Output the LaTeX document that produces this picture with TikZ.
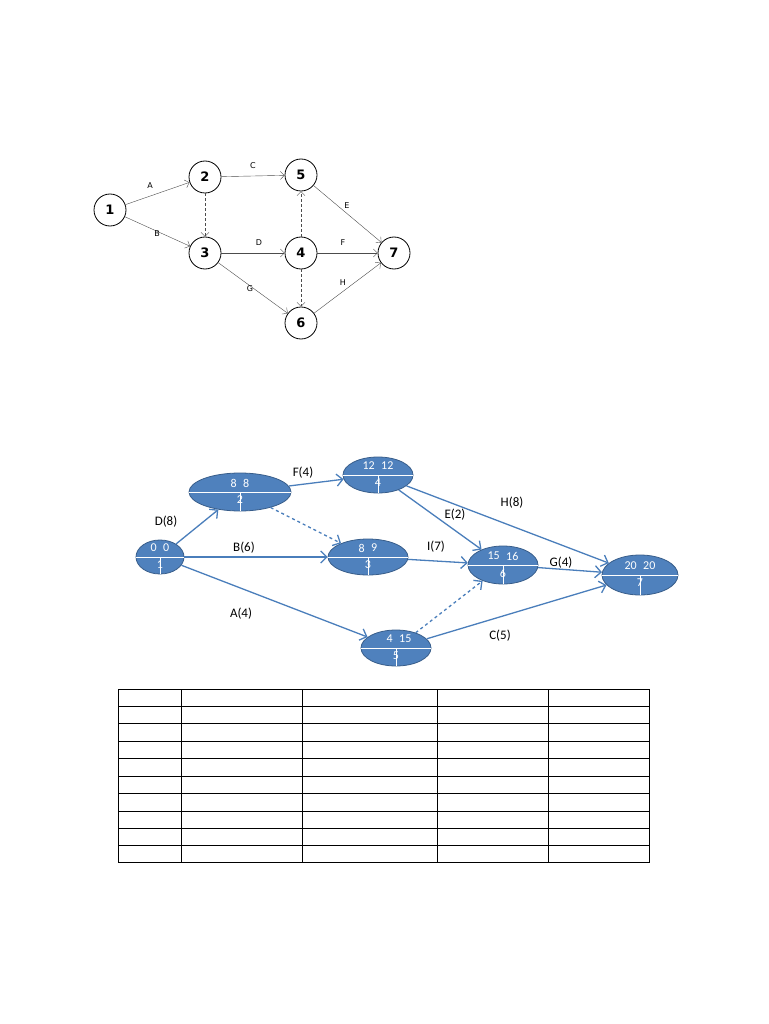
\documentclass[tikz,border=0pt]{standalone}
\usepackage{fontspec}
\setmainfont{Carlito}
\newfontfamily\vfont{DejaVu Sans}
\usetikzlibrary{arrows.meta,shapes.geometric}
\definecolor{bfill}{HTML}{4F81BD}
\definecolor{bline}{HTML}{385D8A}
\definecolor{barr}{HTML}{4A7EBB}
\begin{document}
\begin{tikzpicture}[x=1pt,y=-1pt,
 cnode/.style={circle,draw,thick,minimum size=32pt,inner sep=0pt,font=\vfont\bfseries\fontsize{13}{13}\selectfont},
 carr/.style={draw=black!70,-{Straight Barb[length=4pt]}},
 cdash/.style={carr,densely dashed},
 clab/.style={font=\vfont\fontsize{8}{8}\selectfont},
 enode/.style={ellipse,fill=bfill,draw=bline,thick,inner sep=0pt},
 earr/.style={draw=barr,line width=1.3pt,-{Straight Barb[length=6pt]}},
 edash/.style={earr,dashed},
 elab/.style={font=\fontsize{13}{13}\selectfont},
 etxt/.style={text=white,font=\fontsize{12}{12}\selectfont,inner sep=0pt},
 dl/.style={draw=white,thick}]
\useasboundingbox (0,0) rectangle (768,1024);
% top graph
\node[cnode] (t1) at (110,210) {1};
\node[cnode] (t2) at (205,177) {2};
\node[cnode] (t5) at (301,175) {5};
\node[cnode] (t3) at (205,253) {3};
\node[cnode] (t4) at (301,253) {4};
\node[cnode] (t7) at (394,253) {7};
\node[cnode] (t6) at (301,323) {6};
\draw[carr] (t1) -- (t2); \draw[carr] (t1) -- (t3);
\draw[carr] (t2) -- (t5); \draw[cdash] (t2) -- (t3);
\draw[carr] (t3) -- (t4); \draw[carr] (t3) -- (t6);
\draw[cdash] (t4) -- (t5); \draw[cdash] (t4) -- (t6);
\draw[carr] (t5) -- (t7); \draw[carr] (t4) -- (t7); \draw[carr] (t6) -- (t7);
\node[clab] (la) at (150,186) {A};
\node[clab] (lb) at (157,234) {B};
\node[clab] (lc) at (253,166) {C};
\node[clab] (ld) at (259,243) {D};
\node[clab] (le) at (347,206) {E};
\node[clab] (lf) at (343,243) {F};
\node[clab] (lg) at (250,289) {G};
\node[clab] (lh) at (343,283) {H};
% bottom graph
\foreach \n/\x/\y/\rx/\ry/\t/\a/\b in {1/160/557/24/17/1/0/0, 2/240/492/51/19/2/8/8, 4/378/475/35/18/4/12/12, 3/368/557/40/18/3/8/9, 6/503/565/35/19/6/15/16, 7/640/575/38/20/7/20/20, 5/396/648/35/18/5/4/15}{
 \node[enode,minimum width=2*\rx pt,minimum height=2*\ry pt] (e\n) at (\x,\y) {};
 \draw[dl] (e\n.west) -- (e\n.east);
 \draw[dl] (e\n.center) -- (e\n.south);
 \node[etxt] (et\n) at ([yshift=-8pt]e\n.center) {\t};
 \node[etxt,anchor=east] (ea\n) at ([xshift=-3pt,yshift=9pt]e\n.center) {\a};
 \node[etxt,anchor=west] (eb\n) at ([xshift=3pt,yshift=9pt]e\n.center) {\b};
}
\draw[earr] (e1) -- (e2);
\draw[earr] (e1) -- (e3);
\draw[earr] (e1) -- (e5);
\draw[earr] (e2) -- (e4);
\draw[edash] (e2) -- (e3);
\draw[earr] (e4) -- (e6);
\draw[earr] (e4) -- (e7);
\draw[earr] (e3) -- (e6);
\draw[edash] (e5) -- (e6);
\draw[earr] (e6) -- (e7);
\draw[earr] (e5) -- (e7);
\node[elab] (l1) at (166,522) {D(8)};
\node[elab] (l2) at (244,548) {B(6)};
\node[elab] (l3) at (303,473) {F(4)};
\node[elab] (l4) at (241,614) {A(4)};
\node[elab] (l5) at (512,503) {H(8)};
\node[elab] (l6) at (455,515) {E(2)};
\node[elab] (l7) at (436,547) {I(7)};
\node[elab] (l8) at (561,563) {G(4)};
\node[elab] (l9) at (500,636) {C(5)};
% table
\draw[black] (118,689) rectangle (649,862);
\foreach \x in {181,302,437,548} \draw (\x,689) -- (\x,862);
\foreach \y in {706,723,741,758,776,793,811,828,845} \draw (118,\y) -- (649,\y);
\end{tikzpicture}
\end{document}
